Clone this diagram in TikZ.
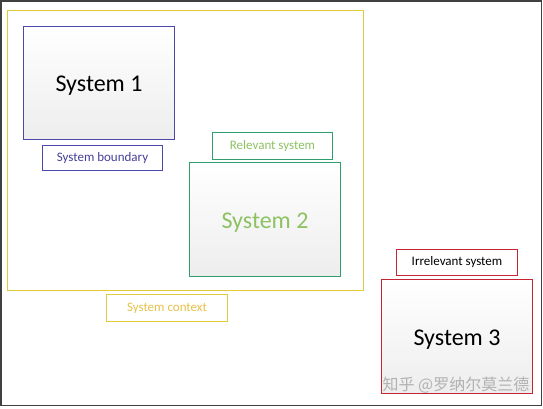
\documentclass[tikz,border=0pt]{standalone}
\usepackage{fontspec}
\setmainfont{Carlito}
\newfontfamily\cjk{Noto Sans CJK SC}
\definecolor{frame}{HTML}{404040}
\definecolor{ctxc}{HTML}{E2CB3A}
\definecolor{ctxt}{HTML}{E6C24A}
\definecolor{bluec}{HTML}{4A48A8}
\definecolor{bluet}{HTML}{45409A}
\definecolor{greenc}{HTML}{2F9E6C}
\definecolor{greent}{HTML}{8DC263}
\definecolor{redc}{HTML}{C42434}
\tikzset{
  sysbox/.style={draw, line width=1pt, anchor=north west, inner sep=0pt,
    top color=white, bottom color=black!7, font=\fontsize{24}{28}\selectfont},
  tag/.style={draw, line width=1pt, anchor=north west, inner sep=0pt, fill=white,
    font=\fontsize{13}{15}\selectfont},
}
\begin{document}
\begin{tikzpicture}[x=1pt,y=-1pt]
\useasboundingbox (0,0) rectangle (543,408);
\fill[white] (0,0) rectangle (543,408);
\draw[frame, line width=1.5pt] (1,1) rectangle (541.5,405.5);
\node[draw=ctxc, line width=1pt, anchor=north west, minimum width=356pt, minimum height=280pt, inner sep=0pt] (ctx) at (7,10) {};
\node[tag, draw=ctxc, text=ctxt, minimum width=121pt, minimum height=27pt] (ctxlabel) at (106,294) {System context};
\node[sysbox, draw=bluec, minimum width=151pt, minimum height=113pt, text=black] (s1) at (23,26) {};
\node[font=\fontsize{24}{28}\selectfont, text=black] (s1t) at ([yshift=-3pt]s1.center) {System 1};
\node[tag, draw=bluec, text=bluet, minimum width=120pt, minimum height=25pt] (s1label) at (42,145) {System boundary};
\node[tag, draw=greenc, text=greent, minimum width=120pt, minimum height=27pt] (s2label) at (212,132) {Relevant system};
\node[sysbox, draw=greenc, minimum width=151pt, minimum height=114pt] (s2) at (189,162) {};
\node[font=\fontsize{24}{28}\selectfont, text=greent] (s2t) at ([yshift=-3pt]s2.center) {System 2};
\node[tag, draw=redc, text=black, minimum width=121pt, minimum height=26pt] (s3label) at (396,249) {Irrelevant system};
\node[sysbox, draw=redc, minimum width=151pt, minimum height=114pt] (s3) at (381,279) {};
\node[font=\fontsize{24}{28}\selectfont, text=black] (s3t) at ([yshift=-3pt]s3.center) {System 3};
\node[text=black!30, font=\cjk\fontsize{16}{18}\selectfont, anchor=center] (wm) at (456,385) {知乎 @罗纳尔莫兰德};
\end{tikzpicture}
\end{document}
